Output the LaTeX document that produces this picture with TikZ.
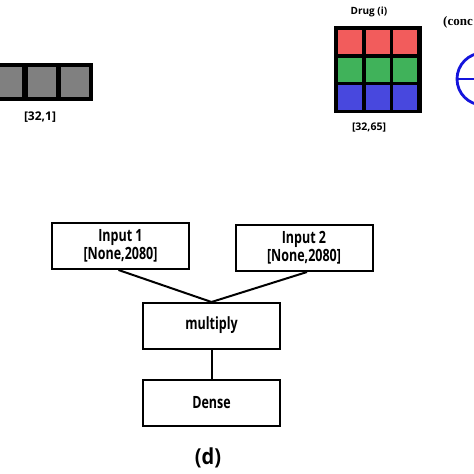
\documentclass[tikz,border=0pt]{standalone}
\usepackage{fontspec}
\setmainfont{Open Sans}
\newfontfamily\serifbold{Liberation Serif}
\usepackage{tikz}
\usetikzlibrary{calc}

\definecolor{cellgray}{RGB}{128,128,128}
\definecolor{cellred}{RGB}{242,92,92}
\definecolor{cellgreen}{RGB}{64,178,90}
\definecolor{cellblue}{RGB}{72,72,222}
\definecolor{plusblue}{RGB}{20,20,220}

\newcommand{\tallrow}[1]{\scalebox{1}[1.35]{#1}}

\tikzset{
    layerbox/.style={draw=black, line width=2pt, minimum width=137pt, minimum height=46pt,
        align=center, font=\bfseries\fontsize{12.5}{15}\selectfont, inner sep=0pt},
    shapelabel/.style={font=\bfseries\fontsize{10.5}{12}\selectfont},
    link/.style={line width=2pt}
}

\begin{document}
\begin{tikzpicture}[x=1pt, y=-1pt]
        \clip (0,0) rectangle (474,474);
        \fill[white] (0,0) rectangle (474,474);

        % gray vector
        \fill[black] (-5,63) rectangle (93,101);
        \foreach \x in {-6,28,61} {
            \fill[cellgray] (\x,67) rectangle ++(28,30);
        }
        \node[shapelabel, font=\bfseries\fontsize{12}{14}\selectfont] (vecdim) at (40,117) {[32,1]};

        % drug matrix
        \fill[black] (334,26) rectangle (422,113);
        \foreach \x in {338,366,393} {
            \fill[cellred] (\x,30) rectangle ++(24,24);
            \fill[cellgreen] (\x,58) rectangle ++(24,24);
            \fill[cellblue] (\x,85) rectangle ++(24,25);
        }
        \node[shapelabel, font=\bfseries\fontsize{10}{12}\selectfont] (drug) at (369,12) {Drug (i)};
        \node[shapelabel] (drugdim) at (369,128) {[32,65]};

        % concat sign
        \node[anchor=west, inner sep=0pt, font=\serifbold\bfseries\fontsize{13}{15}\selectfont] (concat) at (443,22) {(conc};
        \draw[plusblue, line width=2.8pt] (483,79) circle (26);
        \draw[plusblue, line width=2.8pt] (457,79) -- (509,79);

        % merge layers
        \node[layerbox] (in1) at (120.5,246) {\tallrow{Input 1}\\[1pt]\tallrow{[None,2080]}};
        \node[layerbox] (in2) at (304,248) {\tallrow{Input 2}\\[1pt]\tallrow{[None,2080]}};
        \node[layerbox] (mult) at (211.5,325.5) {\tallrow{multiply}};
        \node[layerbox] (dense) at (211.5,403) {\tallrow{Dense}};
        \node[font=\bfseries\fontsize{20}{24}\selectfont] (cap) at (208,458) {\scalebox{1}[1.1]{(d)}};

        \coordinate (join) at ($(mult.north)+(0,0.5)$);
        \draw[link] ($(in1.south)+(-2,0)$) -- (join);
        \draw[link] ($(in2.south)+(3,0)$) -- (join);
        \draw[link] (mult) -- (dense);

    \end{tikzpicture}
\end{document}
